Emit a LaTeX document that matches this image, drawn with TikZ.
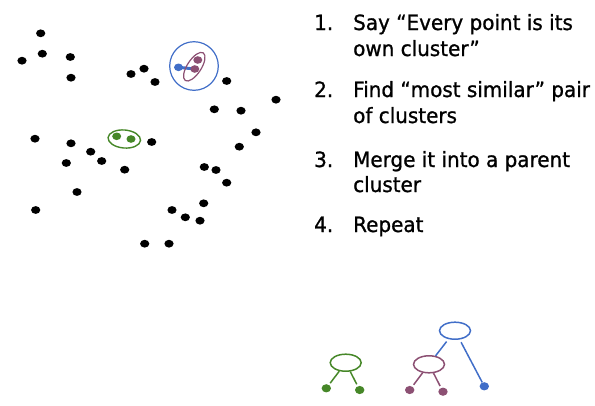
\documentclass[tikz,border=0pt]{standalone}
\usepackage{fontspec}
\setmainfont{DejaVu Sans}[FakeStretch=0.95, FakeBold=1]
\usetikzlibrary{shapes.geometric}
\definecolor{clgreen}{RGB}{70,135,40}
\definecolor{clmaroon}{RGB}{140,80,115}
\definecolor{clblue}{RGB}{65,110,200}

\begin{document}
\begin{tikzpicture}[x=1pt, y=-1pt,
  every node/.style={inner sep=0pt},
  steptext/.style={anchor=base west, font=\fontsize{21}{26}\selectfont},
  dot/.style={ellipse, fill, minimum width=9pt, minimum height=7.6pt},
  leaf/.style={ellipse, fill, minimum width=9.4pt, minimum height=8.2pt},
  clus/.style={ellipse, draw, line width=1.5pt, minimum width=31pt, minimum height=17pt}]
\useasboundingbox (0,0) rectangle (595,405);

% the points
\foreach \x/\y in {40.7/33.3, 42.3/53.7, 22/60.7, 70.3/57, 71/77.7, 131/74,
  144/68.7, 155/82, 226.7/81, 276/99.7, 214.3/109.3, 241/110.7, 256/132.3,
  239.3/146.7, 35/138.7, 71/143.3, 90.7/151.7, 101.7/161, 66.3/163,
  124.7/169.7, 151.7/142, 204.3/167, 216/170, 226.7/182.7, 77/192, 35.7/210,
  172/210, 185.3/217.3, 200/220.7, 203.7/203.3, 144.7/243.7, 169/243.7}
  \fill (\x,\y) ellipse (4.6 and 3.9);

% green pair
\node[dot, clgreen] (g1) at (116.7,136.3) {};
\node[dot, clgreen] (g2) at (131,139) {};
\node[ellipse, draw, clgreen, line width=1.4pt, minimum width=32.6pt, minimum height=18pt, rotate=-5] (gpair) at (124.3,139) {};

% blue point merged with maroon pair
\node[dot, clblue] (b1) at (178.5,67.3) {};
\draw[clblue, line width=3pt] (b1.center) -- (194.8,69);
\node[dot, clmaroon] (m1) at (197.8,60) {};
\node[dot, clmaroon] (m2) at (194.8,69) {};
\node[ellipse, draw, clmaroon, line width=1.2pt, minimum width=14pt, minimum height=33pt, rotate=-33] (mpair) at (194.3,66.7) {};
\node[circle, draw, clblue, line width=1.2pt, minimum size=48.6pt] (bclus) at (194,66) {};

% steps
\node[steptext] (n1) at (314,30) {1.};
\node[steptext] (s1a) at (353,30) {Say “Every point is its};
\node[steptext] (s1b) at (353,56) {own cluster”};
\node[steptext] (n2) at (314,97) {2.};
\node[steptext] (s2a) at (353,97) {Find “most similar” pair};
\node[steptext] (s2b) at (353,123) {of clusters};
\node[steptext] (n3) at (314,167) {3.};
\node[steptext] (s3a) at (353,167) {Merge it into a parent};
\node[steptext] (s3b) at (353,192) {cluster};
\node[steptext] (n4) at (314,232) {4.};
\node[steptext] (s4a) at (353,232) {Repeat};

% dendrogram
\node[clus, clgreen] (tg) at (345.7,362.7) {};
\node[leaf, clgreen] (tg1) at (326.3,388.3) {};
\node[leaf, clgreen] (tg2) at (359.7,390) {};
\node[clus, clmaroon] (tm) at (429,364.3) {};
\node[leaf, clmaroon] (tm1) at (409.7,390) {};
\node[leaf, clmaroon] (tm2) at (443,391.7) {};
\node[clus, clblue] (tb) at (455,330.7) {};
\node[leaf, clblue] (tb1) at (484.3,386.3) {};

\draw[clgreen, line width=1.5pt, shorten >=2pt] (tg) -- (tg1);
\draw[clgreen, line width=1.5pt, shorten >=2pt] (tg) -- (tg2);
\draw[clmaroon, line width=1.5pt, shorten >=2pt] (tm) -- (tm1);
\draw[clmaroon, line width=1.5pt, shorten >=2pt] (tm) -- (tm2);
\draw[clblue, line width=1.5pt, shorten <=3pt] (tb) -- (tm);
\draw[clblue, line width=1.5pt, shorten <=3pt] (tb) -- (tb1);
\end{tikzpicture}
\end{document}
